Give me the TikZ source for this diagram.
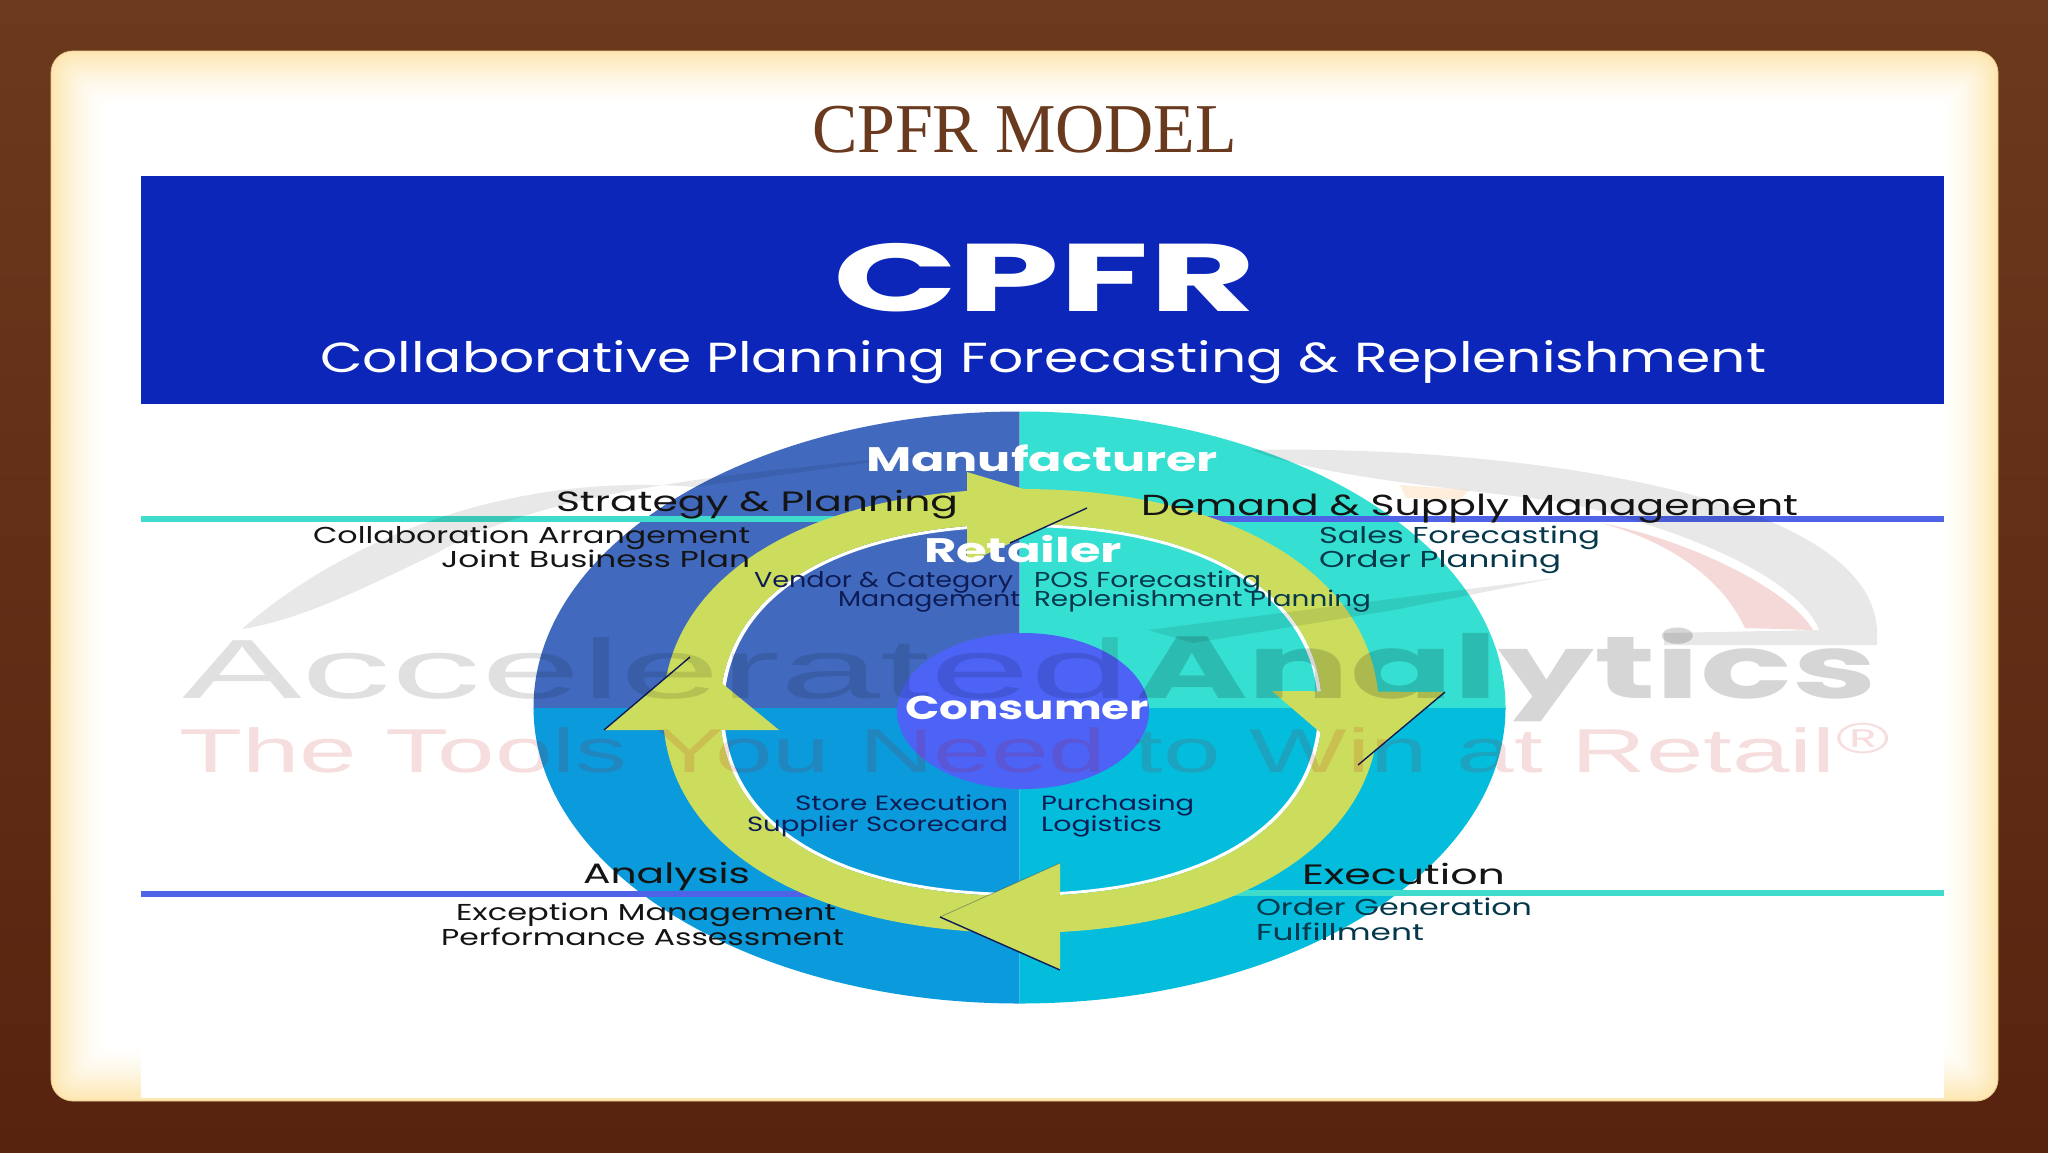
\documentclass[tikz,border=0pt]{standalone}
\usepackage{fontspec}
\usepackage{graphicx}
\newfontfamily\popf{Poppins}
\newfontfamily\libsf{Liberation Sans}
\newfontfamily\titf{Liberation Serif}
\definecolor{browntop}{HTML}{6B3A1D}
\definecolor{brownbot}{HTML}{57230F}
\definecolor{glow}{HTML}{FDE6B0}
\definecolor{bannerblue}{HTML}{0B26B8}
\definecolor{titlebrown}{HTML}{6A3A1E}
\definecolor{qtl}{HTML}{416ABF}
\definecolor{qtr}{HTML}{35E0D2}
\definecolor{qbl}{HTML}{0B9ADB}
\definecolor{qbr}{HTML}{04BCDC}
\definecolor{core}{HTML}{4C63F6}
\definecolor{ringc}{HTML}{CCDD5E}
\definecolor{linet}{HTML}{3FDCCB}
\definecolor{lineb}{HTML}{4E63E6}
\definecolor{navy}{HTML}{0E1C55}
\definecolor{ink}{HTML}{141414}
\definecolor{teal}{HTML}{06384C}
\tikzset{
  lab/.style={anchor=base west,inner sep=0pt,outer sep=0pt},
  rulebar/.style={line width=2.8pt},
  arrowhead/.style={fill=ringc,draw=none},
  edgeline/.style={draw=navy,line width=0.7pt},
  faintedge/.style={draw=navy,draw opacity=0.35,line width=0.4pt},
  wmgrey/.style={fill=black,opacity=0.09,draw=none},
  wmred/.style={fill=red!75!black,opacity=0.15,draw=none},
}
% name, x, baseline, width px, font size pt, colour/options, text
\newcommand{\lbl}[7]{\node[lab,#6] (#1) at (#2,#3) {\fontsize{#5}{#5}\selectfont\resizebox{\dimexpr #4pt*1/2\relax}{\height}{#7}};}
% squarish ellipse path: cx, cy, rx, ry, k
\newcommand{\supell}[5]{({#1-#3},#2)
 .. controls ({#1-#3},{#2-#5*#4}) and ({#1-#5*#3},{#2-#4}) .. (#1,{#2-#4})
 .. controls ({#1+#5*#3},{#2-#4}) and ({#1+#3},{#2-#5*#4}) .. ({#1+#3},#2)
 .. controls ({#1+#3},{#2+#5*#4}) and ({#1+#5*#3},{#2+#4}) .. (#1,{#2+#4})
 .. controls ({#1-#5*#3},{#2+#4}) and ({#1-#3},{#2+#5*#4}) .. ({#1-#3},#2) -- cycle}
\begin{document}
\begin{tikzpicture}[x=0.5pt,y=-0.5pt]
\useasboundingbox (0,0) rectangle (2048,1152);
% slide background
\shade[top color=browntop,bottom color=brownbot] (0,0) rectangle (2048,1152);
% panel with warm glow
\foreach \i in {0,...,28}{
  \pgfmathsetmacro{\p}{100*(1-\i/28)^1.6}
  \pgfmathsetmacro{\ins}{51+2*\i}
  \pgfmathsetmacro{\xr}{1998-2*\i}
  \pgfmathsetmacro{\yb}{1101-2*\i}
  \pgfmathsetmacro{\rad}{max(11-\i/2,1)}
  \fill[glow!\p!white,rounded corners=\rad pt] (\ins,\ins) rectangle (\xr,\yb);
}
\draw[color=glow!70!brown,line width=0.4pt,rounded corners=11pt] (51,51) rectangle (1998,1101);
% picture area
\fill[white] (141,176) rectangle (1944,1098);
\fill[bannerblue] (141,176) rectangle (1944,404);
% rules outside the disc
\draw[rulebar,linet] (141,519) -- (600,519);
\draw[rulebar,lineb] (141,894) -- (600,894);
% disc
\begin{scope}
  \clip (500,380) rectangle (1019.5,708);
  \fill[qtl] (1019.5,707.5) ellipse [x radius=243pt,y radius=148pt];
\end{scope}
\begin{scope}
  \clip (1019.5,380) rectangle (1540,708);
  \fill[qtr] (1019.5,707.5) ellipse [x radius=243pt,y radius=148pt];
\end{scope}
\begin{scope}
  \clip (500,708) rectangle (1019.5,1040);
  \fill[qbl] (1019.5,707.5) ellipse [x radius=243pt,y radius=148pt];
\end{scope}
\begin{scope}
  \clip (1019.5,708) rectangle (1540,1040);
  \fill[qbr] (1019.5,707.5) ellipse [x radius=243pt,y radius=148pt];
\end{scope}
% rules lying over the disc
\draw[rulebar,linet] (600,519) -- (860,519);
\draw[rulebar,lineb] (600,894) -- (880,894);
\draw[rulebar,linet] (1220,893) -- (1944,893);
\draw[rulebar,lineb] (1201,519) -- (1944,519);
% centre
\fill[core] (1023,711) ellipse [x radius=63pt,y radius=39pt];
% ring
\fill[white,even odd rule] \supell{1021}{710}{301}{186}{0.62} \supell{1021}{710}{297}{183}{0.62};
\fill[ringc,even odd rule] \supell{1021}{711}{358}{222}{0.6} \supell{1021}{710}{301}{186}{0.62};
% arrowheads
\fill[arrowhead] (967,472) -- (1087,508) -- (967,563) -- cycle;
\fill[arrowhead] (1272,691) -- (1445,692) -- (1358,765) -- cycle;
\fill[arrowhead] (940,917) -- (1060,863) -- (1060,970) -- cycle;
\fill[arrowhead] (604,730) -- (779,730) -- (690,657) -- cycle;
\draw[edgeline] (1087,508) -- (1010,543);
\draw[edgeline] (1445,692) -- (1358,765);
\draw[edgeline] (940,917) -- (1060,970);
\draw[faintedge] (940,917) -- (1060,863);
\draw[edgeline] (690,657) -- (604,730);
% watermark
\path[wmgrey] (242,629) .. controls (320,560) and (480,470) .. (695,487) -- (960,450) .. controls (800,470) and (560,480) .. (437,553) .. controls (360,590) and (300,620) .. (242,629) -- cycle;
\path[wmgrey] (1251,450) .. controls (1500,445) and (1870,490) .. (1877,630) -- (1877,645) -- (1664,645) -- (1664,633) -- (1819,630) .. controls (1800,580) and (1690,530) .. (1567,503) .. controls (1480,490) and (1330,480) .. (1251,450) -- cycle;
\path[wmred] (1601,523) .. controls (1690,540) and (1790,590) .. (1813,630) -- (1745,628) .. controls (1725,585) and (1680,545) .. (1601,523) -- cycle;
\path[wmgrey] (1148,630) -- (1555,578) -- (1394,610) -- (1193,643) -- cycle;
\path[fill=orange,opacity=0.14] (1400,485) -- (1469,490) -- (1460,500) -- (1406,498) -- cycle;
\lbl{wmA}{182}{698}{948}{42}{text=black,text opacity=0.12}{\libsf Accelerated}
\lbl{wmB}{1136}{698}{741}{44}{text=black,text opacity=0.16}{\popf\bfseries Analytics}
\lbl{wmC}{179}{772}{1712}{31}{text=red!75!black,text opacity=0.13}{\libsf The Tools You Need to Win at Retail\textsuperscript{®}}
% title and banner
\lbl{title}{812}{152}{425}{35}{text=titlebrown}{\titf CPFR MODEL}
\lbl{bigcpfr}{833}{311}{423}{48}{text=white}{\popf\bfseries CPFR}
\lbl{subtitle}{320}{372}{1446}{21}{text=white}{\popf Collaborative Planning Forecasting \& Replenishment}
% actors
\lbl{manu}{866}{471}{352}{17}{text=white}{\popf\bfseries Manufacturer}
\lbl{reta}{924}{562}{198}{17}{text=white}{\popf\bfseries Retailer}
\lbl{cons}{905}{719}{244}{16.5}{text=white}{\popf\bfseries Consumer}
% quadrant headings
\lbl{strat}{556}{511}{402}{14}{text=ink}{\popf Strategy \& Planning}
\lbl{demand}{1141}{515}{657}{14.5}{text=ink}{\popf Demand \& Supply Management}
\lbl{analy}{583}{883}{167}{14}{text=ink}{\popf Analysis}
\lbl{exec}{1302}{884}{203}{14}{text=ink}{\popf Execution}
% outer lists
\lbl{collab}{313}{543}{437}{11.5}{text=ink}{\popf Collaboration Arrangement}
\lbl{joint}{441}{567}{309}{11.5}{text=ink}{\popf Joint Business Plan}
\lbl{sales}{1319}{543}{281}{11.5}{text=teal}{\popf Sales Forecasting}
\lbl{order}{1319}{567}{242}{11.5}{text=teal}{\popf Order Planning}
\lbl{except}{456}{920}{380}{11.5}{text=ink}{\popf Exception Management}
\lbl{perf}{441}{945}{403}{11.5}{text=ink}{\popf Performance Assessment}
\lbl{ordgen}{1256}{915}{276}{11.5}{text=teal}{\popf Order Generation}
\lbl{fulfil}{1256}{940}{168}{11.5}{text=teal}{\popf Fulfillment}
% inner lists
\lbl{vendor}{754}{587}{259}{10.8}{text=navy}{\popf Vendor \& Category}
\lbl{mgmt}{838}{606}{182}{10.8}{text=navy}{\popf Management}
\lbl{pos}{1034}{587}{227}{10.8}{text=teal}{\popf POS Forecasting}
\lbl{reple}{1034}{606}{337}{10.8}{text=teal}{\popf Replenishment Planning}
\lbl{store}{795}{810}{213}{10.3}{text=navy}{\popf Store Execution}
\lbl{supp}{747}{831}{261}{10.3}{text=navy}{\popf Supplier Scorecard}
\lbl{purch}{1041}{810}{153}{10.3}{text=navy}{\popf Purchasing}
\lbl{logi}{1041}{831}{121}{10.3}{text=navy}{\popf Logistics}
\end{tikzpicture}
\end{document}
